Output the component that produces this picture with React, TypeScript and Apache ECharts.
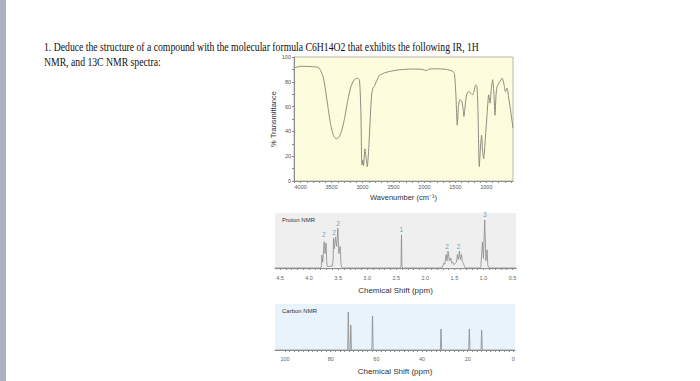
import React, { useEffect, useRef } from "react";
import * as echarts from "echarts";

const titleLines = [
  "1. Deduce the structure of a compound with the molecular formula C6H14O2 that exhibits the following IR, 1H",
  "NMR, and 13C NMR spectra:",
];

// IR spectrum: [wavenumber cm-1, % transmittance]
const irXTicks = [4000, 3500, 3000, 2500, 2000, 1500, 1000];
const irYTicks = [0, 20, 40, 60, 80, 100];
const irSpectrum: [number, number][] = [
  [4108, 91.1], [4000, 92.5], [3811, 92.2], [3719, 91.6], [3676, 89], [3632, 83],
  [3595, 72], [3557, 58.8], [3514, 45], [3470, 36.7], [3427, 34], [3384, 35],
  [3341, 40], [3297, 49], [3243, 64], [3189, 76], [3135, 81.7], [3081, 83],
  [3049, 80.9], [3027, 56], [3011, 13], [2995, 17], [2984, 12.4], [2962, 25.9],
  [2941, 18], [2924, 11.6], [2903, 23.7], [2876, 50.7], [2854, 69.5], [2833, 75],
  [2811, 76.3], [2778, 80], [2730, 85], [2622, 87.6], [2432, 89.5], [2216, 90.3],
  [2027, 90], [1973, 89], [1919, 90.3], [1811, 90.5], [1649, 90], [1541, 88.4],
  [1514, 86], [1492, 69.5], [1470, 45], [1449, 61], [1427, 65.5], [1395, 64],
  [1373, 57], [1362, 52], [1346, 58.8], [1319, 69.5], [1287, 72], [1254, 71],
  [1222, 69.5], [1200, 72], [1173, 77.6], [1151, 76], [1135, 56], [1114, 11.6],
  [1092, 29], [1076, 37], [1060, 23.7], [1043, 18], [1016, 34.5], [989, 53],
  [962, 69.5], [941, 62.8], [919, 75], [897, 81.7], [876, 69.5], [860, 53],
  [843, 69.5], [827, 76], [784, 80], [746, 83], [713, 77.6], [692, 72],
  [665, 75], [638, 66.8], [605, 56], [569, 42.6],
];

// 1H NMR: [ppm, relative intensity]
const protonTicks = [4.5, 4.0, 3.5, 3.0, 2.5, 2.0, 1.5, 1.0, 0.5];
const protonSpectrum: [number, number][] = [
  [4.59, 0], [3.8, 0],
  [3.79, 2], [3.78, 27], [3.765, 12], [3.74, 55], [3.725, 30], [3.707, 52], [3.695, 10], [3.685, 3],
  [3.6, 4], [3.585, 20], [3.58, 62], [3.565, 40], [3.546, 64], [3.525, 45], [3.505, 83],
  [3.487, 30], [3.465, 45], [3.45, 8], [3.44, 2], [3.42, 0],
  [2.43, 0], [2.418, 3], [2.41, 69], [2.402, 3], [2.39, 0],
  [1.72, 0], [1.7, 4], [1.684, 10], [1.665, 8], [1.643, 28], [1.626, 15], [1.609, 35],
  [1.587, 15], [1.563, 21], [1.546, 10], [1.529, 12], [1.51, 7],
  [1.483, 10], [1.466, 12], [1.448, 28], [1.431, 18], [1.414, 35], [1.396, 18],
  [1.379, 28], [1.362, 12], [1.345, 10], [1.33, 4], [1.31, 0],
  [1.06, 0], [1.045, 3], [1.017, 54], [1.0, 20], [0.978, 100], [0.958, 15],
  [0.937, 38], [0.925, 5], [0.905, 1], [0.88, 0], [0.43, 0],
];
const protonIntegrals: { ppm: number; y: number; text: string }[] = [
  { ppm: 3.745, y: 70, text: "2" },
  { ppm: 3.572, y: 75, text: "2" },
  { ppm: 3.5, y: 93, text: "2" },
  { ppm: 2.414, y: 81, text: "1" },
  { ppm: 1.626, y: 45, text: "2" },
  { ppm: 1.426, y: 45, text: "2" },
  { ppm: 0.978, y: 111, text: "3" },
];

// 13C NMR: [ppm, relative intensity]
const carbonTicks = [100, 80, 60, 40, 20, 0];
const carbonPeaks: [number, number][] = [
  [72.3, 38], [71.2, 25], [61.7, 34], [31.7, 21], [19.3, 21], [13.9, 20],
];

function range(a: number, b: number, step: number): number[] {
  const out: number[] = [];
  for (let v = a; v <= b + 1e-9; v += step) out.push(Math.round(v * 1000) / 1000);
  return out;
}

const AXIS_GRAY = "#8f8f8f";
const LABEL_GRAY = "#555";
const SANS = "Liberation Sans, Arial, sans-serif";
const SERIF = "Liberation Serif, Times New Roman, serif";

export default function App() {
  const ref = useRef<HTMLDivElement>(null);
  useEffect(() => {
    if (!ref.current) return;
    const chart = echarts.init(ref.current, undefined, { renderer: "svg" });

    const carbonSpectrum: [number, number][] = [[104.4, 0]];
    carbonPeaks.forEach(([p, h]) => {
      carbonSpectrum.push([p + 0.3, 0], [p, h], [p - 0.3, 0]);
    });
    carbonSpectrum.push([-0.7, 0]);

    const option: any = {
      animation: false,
      backgroundColor: "#fff",
      textStyle: { fontFamily: SANS },
      grid: [
        { left: 294, top: 57, width: 219, height: 124, show: true, backgroundColor: "#fdfcdc", borderColor: "#b8b8a8", borderWidth: 1 },
        { left: 275, top: 213, width: 241, height: 57, show: true, backgroundColor: "#efefef", borderWidth: 0 },
        { left: 275, top: 304, width: 240, height: 47, show: true, backgroundColor: "#e9f3fb", borderWidth: 0 },
      ],
      xAxis: [
        {
          gridIndex: 0, type: "value", inverse: true, min: 569, max: 4108,
          axisLine: { show: true, lineStyle: { color: AXIS_GRAY, width: 1 } },
          axisTick: { show: true, customValues: range(600, 4100, 100), length: 2, lineStyle: { color: AXIS_GRAY } },
          axisLabel: { customValues: irXTicks, fontSize: 5.5, color: LABEL_GRAY, margin: 3, formatter: (v: number) => String(v) },
          splitLine: { show: false },
          name: "Wavenumber (cm\u207B\u00B9)", nameLocation: "middle", nameGap: 12,
          nameTextStyle: { fontSize: 7.5, color: "#333" },
        },
        {
          gridIndex: 1, type: "value", inverse: true, min: 0.44, max: 4.586,
          axisLine: { show: true, lineStyle: { color: AXIS_GRAY, width: 1 } },
          axisTick: { show: true, customValues: range(0.5, 4.5, 0.1), length: 2, lineStyle: { color: AXIS_GRAY } },
          axisLabel: { customValues: protonTicks, fontSize: 5.5, color: "#666", margin: 5, formatter: (v: number) => v.toFixed(1) },
          splitLine: { show: false },
          name: "Chemical Shift (ppm)", nameLocation: "middle", nameGap: 16,
          nameTextStyle: { fontSize: 8, color: "#333" },
        },
        {
          gridIndex: 2, type: "value", inverse: true, min: -0.7, max: 104.4,
          axisLine: { show: true, lineStyle: { color: AXIS_GRAY, width: 1 } },
          axisTick: { show: true, customValues: range(0, 100, 2), length: 2, lineStyle: { color: AXIS_GRAY } },
          axisLabel: { customValues: carbonTicks, fontSize: 5.5, color: "#666", margin: 5, formatter: (v: number) => String(v) },
          splitLine: { show: false },
          name: "Chemical Shift (ppm)", nameLocation: "middle", nameGap: 16,
          nameTextStyle: { fontSize: 8, color: "#333" },
        },
      ],
      yAxis: [
        {
          gridIndex: 0, type: "value", min: 0, max: 100,
          axisLine: { show: true, lineStyle: { color: AXIS_GRAY, width: 1 } },
          axisTick: { show: true, customValues: range(0, 100, 10), length: 2, lineStyle: { color: AXIS_GRAY } },
          axisLabel: { customValues: irYTicks, fontSize: 5.5, color: LABEL_GRAY, margin: 3 },
          splitLine: { show: false },
          name: "% Transmittance", nameLocation: "middle", nameGap: 15, nameRotate: 90,
          nameTextStyle: { fontSize: 7.5, color: "#333" },
        },
        { gridIndex: 1, type: "value", min: -4.2, max: 114.6, show: false },
        { gridIndex: 2, type: "value", min: -1, max: 46, show: false },
      ],
      series: [
        {
          type: "line", xAxisIndex: 0, yAxisIndex: 0, data: irSpectrum, showSymbol: false, smooth: 0.2,
          lineStyle: { color: "#8e8c80", width: 1 }, silent: true,
        },
        {
          type: "line", xAxisIndex: 1, yAxisIndex: 1, data: protonSpectrum, showSymbol: false,
          lineStyle: { color: "#8a8a8a", width: 0.8 }, silent: true,
        },
        {
          type: "scatter", xAxisIndex: 1, yAxisIndex: 1, symbolSize: 0, silent: true,
          data: protonIntegrals.map((d) => ({ value: [d.ppm, d.y], name: d.text })),
          label: { show: true, position: "inside", formatter: (p: any) => p.name, fontSize: 6.5, color: "#3a8cc0" },
        },
        {
          type: "line", xAxisIndex: 2, yAxisIndex: 2, data: carbonSpectrum, showSymbol: false,
          lineStyle: { color: "#8a8a8a", width: 0.8 }, silent: true,
        },
      ],
      graphic: [
        { type: "rect", left: 0, top: 0, shape: { width: 6, height: 381 }, style: { fill: "#aeb1bd" } },
        {
          type: "text", x: 44, y: 47, scaleX: 0.81,
          style: { text: titleLines[0], fontFamily: SERIF, fontSize: 12, fill: "#111", verticalAlign: "middle" },
        },
        {
          type: "text", x: 44, y: 62, scaleX: 0.81,
          style: { text: titleLines[1], fontFamily: SERIF, fontSize: 12, fill: "#111", verticalAlign: "middle" },
        },
        { type: "text", x: 282, y: 220, style: { text: "Proton NMR", fontFamily: SANS, fontSize: 6, fill: "#333", verticalAlign: "middle" } },
        { type: "text", x: 282, y: 311, style: { text: "Carbon NMR", fontFamily: SANS, fontSize: 6, fill: "#333", verticalAlign: "middle" } },
      ],
    };
    chart.setOption(option);
    return () => chart.dispose();
  }, []);
  return <div ref={ref} style={{ position: "fixed", left: 0, top: 0, width: 700, height: 381 }} />;
}
